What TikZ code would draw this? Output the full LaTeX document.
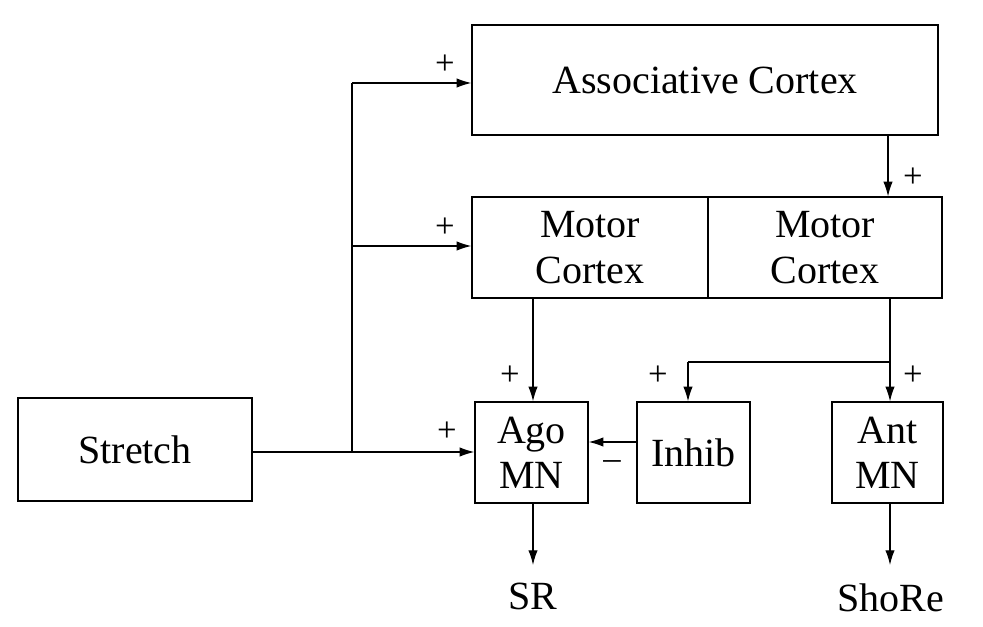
\documentclass[tikz,border=0pt]{standalone}
\usepackage{fontspec}
\setmainfont{Liberation Serif}
\usetikzlibrary{arrows.meta}
\begin{document}
\begin{tikzpicture}[x=0.75pt,y=-0.75pt,
  box/.style={draw,line width=0.9pt,inner sep=0pt,align=center,font=\fontsize{30}{34}\selectfont},
  lbl/.style={font=\fontsize{30}{34}\selectfont},
  sg/.style={font=\fontsize{26}{30}\selectfont},
  ar/.style={line width=0.9pt,-{Latex[length=11pt,width=7pt]}},
  ln/.style={line width=0.9pt}]
\useasboundingbox (0,0) rectangle (983,627);
\node[box,minimum width=466*0.75pt,minimum height=110*0.75pt] (ac) at (705,80) {Associative Cortex};
\node[box,minimum width=236*0.75pt,minimum height=101*0.75pt] (ml) at (590,247.5) {Motor\\Cortex};
\node[box,minimum width=234*0.75pt,minimum height=101*0.75pt] (mr) at (825,247.5) {Motor\\Cortex};
\node[box,minimum width=234*0.75pt,minimum height=103*0.75pt] (st) at (135,449.5) {Stretch};
\node[box,minimum width=113*0.75pt,minimum height=101*0.75pt] (ago) at (531.5,452.5) {Ago\\MN};
\node[box,minimum width=113*0.75pt,minimum height=101*0.75pt] (inh) at (693.5,452.5) {Inhib};
\node[box,minimum width=111*0.75pt,minimum height=101*0.75pt] (ant) at (887.5,452.5) {Ant\\MN};
\node[lbl] (sr) at (533,596) {SR};
\node[lbl] (sh) at (891,598) {ShoRe};
\coordinate (j1) at (352,452);
\coordinate (j2) at (352,246);
\coordinate (j3) at (352,83);
\coordinate (j4) at (890,362);
\coordinate (j5) at (688,362);
\coordinate (e1) at (533,565);
\coordinate (e2) at (890,565);
\draw[ar] (st.east|-j1) -- (ago.west|-j1);
\draw[ln] (j1) -- (j3);
\draw[ar] (j3) -- (ac.west|-j3);
\draw[ar] (j2) -- (ml.west|-j2);
\draw[ar] (ac.south-|888,0) -- (mr.north-|888,0);
\draw[ar] (ml.south-|533,0) -- (ago.north-|533,0);
\draw[ar] (mr.south-|j4) -- (ant.north-|j4);
\draw[ln] (j4) -- (j5);
\draw[ar] (j5) -- (inh.north-|j5);
\draw[ar] (inh.west|-0,442) -- (ago.east|-0,442);
\draw[ar] (ago.south-|e1) -- (e1);
\draw[ar] (ant.south-|e2) -- (e2);
\node[sg] at (445,65) {+};
\node[sg] at (445,228) {+};
\node[sg] at (447,432) {+};
\node[sg] at (913,178) {+};
\node[sg] at (510,376) {+};
\node[sg] at (658,376) {+};
\node[sg] at (913,376) {+};
\node[sg] at (612,465) {--};
\end{tikzpicture}
\end{document}
